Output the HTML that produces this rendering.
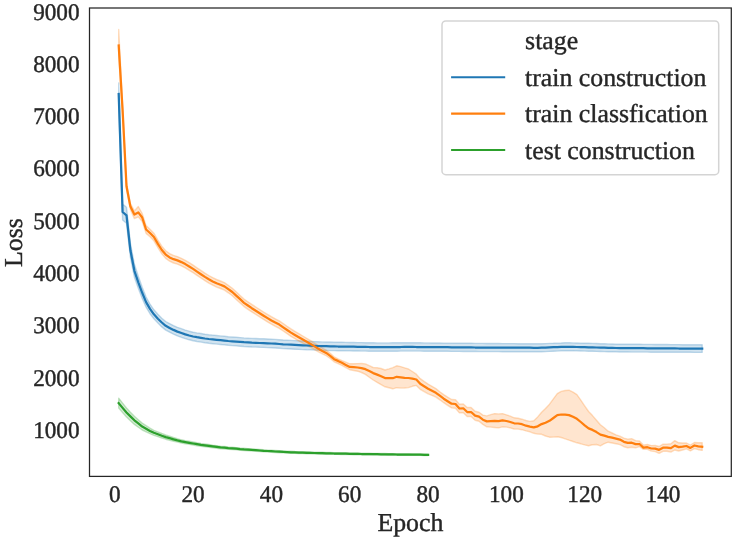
<!DOCTYPE html>
<html lang="en"><head><meta charset="utf-8"><title>Loss vs Epoch</title>
<style>html,body{margin:0;padding:0;background:#fff;}body{width:748px;height:544px;overflow:hidden;}svg{display:block;}</style>
</head><body>
<svg width="748" height="544" viewBox="0 0 748 544">
<rect width="748" height="544" fill="#fff"/>
<g fill-opacity="0.2" stroke-opacity="0.26" stroke-width="1.4" stroke-linejoin="round">
<path d="M118.7,83.0 L122.6,204.0 L126.5,207.3 L130.4,243.3 L134.4,264.3 L138.3,276.3 L142.2,287.3 L146.1,297.0 L150.0,304.1 L153.9,309.8 L157.9,314.3 L161.8,318.2 L165.7,321.5 L169.6,323.6 L173.5,325.6 L177.4,327.3 L181.4,328.7 L185.3,330.1 L189.2,331.2 L193.1,332.2 L197.0,332.9 L200.9,333.5 L204.9,334.2 L208.8,334.7 L212.7,335.1 L216.6,335.5 L220.5,335.9 L224.4,336.3 L228.3,336.7 L232.3,337.0 L236.2,337.3 L240.1,337.6 L244.0,337.9 L247.9,338.1 L251.8,338.4 L255.8,338.5 L259.7,338.7 L263.6,338.8 L267.5,339.0 L271.4,339.2 L275.3,339.4 L279.3,339.7 L283.2,340.0 L287.1,340.2 L291.0,340.4 L294.9,340.6 L298.8,340.8 L302.8,341.0 L306.7,341.2 L310.6,341.4 L314.5,341.6 L318.4,341.7 L322.3,341.9 L326.2,342.0 L330.2,342.0 L334.1,342.1 L338.0,342.2 L341.9,342.3 L345.8,342.4 L349.7,342.5 L353.7,342.5 L357.6,342.6 L361.5,342.6 L365.4,342.7 L369.3,342.7 L373.2,342.8 L377.2,342.9 L381.1,342.9 L385.0,342.9 L388.9,342.9 L392.8,342.8 L396.7,342.8 L400.7,342.8 L404.6,342.8 L408.5,342.7 L412.4,342.8 L416.3,342.8 L420.2,342.8 L424.1,342.9 L428.1,342.9 L432.0,343.0 L435.9,343.0 L439.8,343.0 L443.7,343.1 L447.6,343.1 L451.6,343.1 L455.5,343.2 L459.4,343.2 L463.3,343.3 L467.2,343.3 L471.1,343.3 L475.1,343.4 L479.0,343.4 L482.9,343.4 L486.8,343.5 L490.7,343.5 L494.6,343.5 L498.6,343.5 L502.5,343.6 L506.4,343.6 L510.3,343.6 L514.2,343.6 L518.1,343.7 L522.0,343.7 L526.0,343.7 L529.9,343.7 L533.8,343.8 L537.7,343.8 L541.6,343.7 L545.5,343.6 L549.5,343.4 L553.4,343.3 L557.3,343.1 L561.2,343.0 L565.1,342.8 L569.0,342.8 L573.0,342.9 L576.9,343.0 L580.8,343.1 L584.7,343.2 L588.6,343.3 L592.5,343.4 L596.5,343.5 L600.4,343.7 L604.3,343.8 L608.2,343.9 L612.1,344.0 L616.0,344.1 L619.9,344.2 L623.9,344.2 L627.8,344.3 L631.7,344.3 L635.6,344.3 L639.5,344.3 L643.4,344.4 L647.4,344.4 L651.3,344.4 L655.2,344.5 L659.1,344.5 L663.0,344.5 L666.9,344.5 L670.9,344.6 L674.8,344.6 L678.7,344.6 L682.6,344.7 L686.5,344.7 L690.4,344.7 L694.4,344.7 L698.3,344.8 L702.2,344.8 L702.2,352.4 L698.3,352.4 L694.4,352.4 L690.4,352.3 L686.5,352.3 L682.6,352.3 L678.7,352.3 L674.8,352.3 L670.9,352.2 L666.9,352.2 L663.0,352.2 L659.1,352.2 L655.2,352.2 L651.3,352.2 L647.4,352.1 L643.4,352.1 L639.5,352.1 L635.6,352.1 L631.7,352.1 L627.8,352.0 L623.9,352.0 L619.9,352.0 L616.0,351.9 L612.1,351.8 L608.2,351.7 L604.3,351.6 L600.4,351.5 L596.5,351.4 L592.5,351.3 L588.6,351.2 L584.7,351.1 L580.8,351.0 L576.9,350.9 L573.0,350.8 L569.0,350.7 L565.1,350.7 L561.2,350.9 L557.3,351.1 L553.4,351.2 L549.5,351.4 L545.5,351.6 L541.6,351.7 L537.7,351.8 L533.8,351.8 L529.9,351.8 L526.0,351.7 L522.0,351.7 L518.1,351.7 L514.2,351.7 L510.3,351.7 L506.4,351.7 L502.5,351.7 L498.6,351.6 L494.6,351.6 L490.7,351.6 L486.8,351.6 L482.9,351.6 L479.0,351.6 L475.1,351.5 L471.1,351.5 L467.2,351.5 L463.3,351.5 L459.4,351.4 L455.5,351.4 L451.6,351.4 L447.6,351.3 L443.7,351.3 L439.8,351.3 L435.9,351.3 L432.0,351.2 L428.1,351.2 L424.1,351.2 L420.2,351.1 L416.3,351.1 L412.4,351.1 L408.5,351.1 L404.6,351.1 L400.7,351.1 L396.7,351.2 L392.8,351.2 L388.9,351.2 L385.0,351.3 L381.1,351.3 L377.2,351.3 L373.2,351.2 L369.3,351.2 L365.4,351.1 L361.5,351.1 L357.6,351.0 L353.7,351.0 L349.7,350.9 L345.8,350.9 L341.9,350.8 L338.0,350.7 L334.1,350.6 L330.2,350.6 L326.2,350.5 L322.3,350.4 L318.4,350.3 L314.5,350.1 L310.6,349.9 L306.7,349.8 L302.8,349.6 L298.8,349.4 L294.9,349.2 L291.0,349.0 L287.1,348.8 L283.2,348.6 L279.3,348.3 L275.3,348.0 L271.4,347.8 L267.5,347.6 L263.6,347.4 L259.7,347.3 L255.8,347.1 L251.8,347.0 L247.9,346.7 L244.0,346.5 L240.1,346.2 L236.2,345.9 L232.3,345.6 L228.3,345.3 L224.4,344.9 L220.5,344.5 L216.6,344.1 L212.7,343.7 L208.8,343.3 L204.9,342.8 L200.9,342.1 L197.0,341.5 L193.1,340.8 L189.2,339.8 L185.3,338.7 L181.4,337.3 L177.4,335.9 L173.5,334.2 L169.6,332.2 L165.7,330.1 L161.8,326.9 L157.9,323.1 L153.9,318.8 L150.0,313.7 L146.1,307.2 L142.2,298.4 L138.3,288.3 L134.4,277.2 L130.4,257.3 L126.5,223.3 L122.6,220.0 L118.7,105.0Z" fill="#1f77b4" stroke="#1f77b4"/>
<path d="M118.7,29.5 L122.6,105.3 L126.5,183.2 L130.4,203.6 L134.4,210.9 L138.3,206.5 L142.2,213.5 L146.1,225.6 L150.0,229.2 L153.9,233.2 L157.9,240.1 L161.8,246.2 L165.7,250.8 L169.6,253.6 L173.5,255.4 L177.4,256.6 L181.4,258.3 L185.3,260.3 L189.2,262.7 L193.1,265.1 L197.0,267.8 L200.9,270.4 L204.9,273.1 L208.8,275.5 L212.7,277.6 L216.6,279.5 L220.5,281.0 L224.4,282.6 L228.3,285.3 L232.3,288.2 L236.2,291.8 L240.1,295.5 L244.0,299.1 L247.9,301.8 L251.8,304.4 L255.8,307.0 L259.7,309.5 L263.6,312.0 L267.5,314.4 L271.4,316.7 L275.3,318.8 L279.3,320.9 L283.2,323.5 L287.1,326.3 L291.0,328.9 L294.9,331.3 L298.8,333.6 L302.8,336.0 L306.7,338.3 L310.6,340.7 L314.5,343.2 L318.4,345.7 L322.3,348.0 L326.2,350.2 L330.2,353.3 L334.1,356.8 L338.0,358.8 L341.9,360.6 L345.8,362.2 L349.7,363.8 L353.7,363.7 L357.6,363.6 L361.5,363.5 L365.4,363.9 L369.3,365.7 L373.2,367.5 L377.2,367.7 L381.1,368.5 L385.0,370.0 L388.9,368.9 L392.8,367.7 L396.7,365.8 L400.7,366.6 L404.6,367.8 L408.5,369.0 L412.4,371.5 L416.3,374.2 L420.2,378.6 L424.1,381.4 L428.1,384.1 L432.0,386.3 L435.9,388.6 L439.8,391.7 L443.7,394.6 L447.6,397.1 L451.6,399.5 L455.5,399.7 L459.4,404.2 L463.3,403.9 L467.2,407.5 L471.1,407.5 L475.1,411.2 L479.0,412.2 L482.9,415.1 L486.8,415.9 L490.7,414.7 L494.6,413.6 L498.6,413.9 L502.5,413.6 L506.4,414.8 L510.3,416.2 L514.2,417.8 L518.1,418.3 L522.0,419.2 L526.0,420.5 L529.9,421.4 L533.8,420.8 L537.7,416.9 L541.6,412.2 L545.5,408.5 L549.5,404.2 L553.4,398.8 L557.3,393.6 L561.2,391.4 L565.1,390.5 L569.0,390.2 L573.0,392.1 L576.9,394.6 L580.8,400.1 L584.7,405.9 L588.6,411.5 L592.5,415.6 L596.5,420.2 L600.4,424.7 L604.3,427.7 L608.2,431.2 L612.1,433.0 L616.0,434.8 L619.9,436.2 L623.9,438.2 L627.8,439.1 L631.7,438.7 L635.6,440.6 L639.5,441.0 L643.4,445.1 L647.4,444.5 L651.3,445.6 L655.2,445.5 L659.1,446.5 L663.0,444.2 L666.9,444.1 L670.9,443.8 L674.8,440.6 L678.7,442.8 L682.6,443.0 L686.5,443.0 L690.4,445.0 L694.4,442.5 L698.3,442.8 L702.2,442.7 L702.2,450.4 L698.3,449.7 L694.4,448.6 L690.4,450.9 L686.5,448.8 L682.6,450.0 L678.7,451.0 L674.8,450.0 L670.9,452.1 L666.9,451.3 L663.0,451.3 L659.1,453.3 L655.2,451.6 L651.3,451.1 L647.4,449.3 L643.4,449.3 L639.5,446.7 L635.6,447.8 L631.7,447.3 L627.8,447.7 L623.9,446.7 L619.9,444.6 L616.0,443.8 L612.1,443.0 L608.2,442.2 L604.3,443.7 L600.4,445.8 L596.5,444.5 L592.5,444.8 L588.6,445.7 L584.7,444.9 L580.8,443.8 L576.9,442.8 L573.0,441.5 L569.0,440.2 L565.1,438.8 L561.2,437.5 L557.3,436.7 L553.4,437.1 L549.5,437.2 L545.5,436.0 L541.6,434.3 L537.7,434.1 L533.8,433.3 L529.9,431.8 L526.0,430.9 L522.0,429.7 L518.1,429.1 L514.2,429.0 L510.3,427.9 L506.4,427.1 L502.5,426.8 L498.6,427.9 L494.6,427.5 L490.7,427.1 L486.8,426.8 L482.9,424.4 L479.0,421.2 L475.1,420.2 L471.1,416.5 L467.2,416.5 L463.3,412.7 L459.4,412.9 L455.5,408.2 L451.6,407.9 L447.6,405.3 L443.7,402.7 L439.8,399.8 L435.9,397.1 L432.0,395.4 L428.1,393.8 L424.1,391.6 L420.2,389.3 L416.3,385.4 L412.4,386.3 L408.5,387.6 L404.6,388.0 L400.7,388.1 L396.7,387.7 L392.8,388.8 L388.9,387.8 L385.0,386.8 L381.1,384.7 L377.2,382.4 L373.2,380.0 L369.3,377.2 L365.4,374.4 L361.5,372.5 L357.6,371.2 L353.7,370.5 L349.7,369.7 L345.8,367.6 L341.9,365.4 L338.0,363.5 L334.1,361.8 L330.2,358.5 L326.2,355.7 L322.3,353.8 L318.4,351.8 L314.5,349.6 L310.6,347.3 L306.7,345.3 L302.8,343.2 L298.8,341.0 L294.9,338.7 L291.0,336.4 L287.1,333.7 L283.2,331.0 L279.3,328.4 L275.3,326.3 L271.4,324.2 L267.5,321.9 L263.6,319.4 L259.7,317.0 L255.8,314.5 L251.8,311.9 L247.9,309.3 L244.0,306.6 L240.1,303.0 L236.2,299.4 L232.3,295.8 L228.3,292.8 L224.4,290.1 L220.5,288.5 L216.6,287.1 L212.7,285.2 L208.8,283.1 L204.9,280.7 L200.9,278.0 L197.0,275.4 L193.1,272.7 L189.2,270.3 L185.3,267.9 L181.4,265.9 L177.4,264.2 L173.5,263.0 L169.6,261.2 L165.7,258.4 L161.8,253.8 L157.9,247.7 L153.9,240.8 L150.0,236.8 L146.1,233.4 L142.2,221.5 L138.3,216.9 L134.4,218.6 L130.4,209.6 L126.5,189.2 L122.6,115.3 L118.7,55.5Z" fill="#ff7f0e" stroke="#ff7f0e"/>
<path d="M118.7,398.1 L122.6,403.1 L126.5,408.0 L130.4,412.2 L134.4,416.3 L138.3,419.7 L142.2,423.1 L146.1,425.7 L150.0,428.2 L153.9,430.3 L157.9,431.9 L161.8,433.5 L165.7,435.0 L169.6,436.2 L173.5,437.5 L177.4,438.7 L181.4,439.8 L185.3,440.6 L189.2,441.3 L193.1,442.0 L197.0,442.8 L200.9,443.5 L204.9,444.0 L208.8,444.5 L212.7,445.1 L216.6,445.6 L220.5,446.2 L224.4,446.5 L228.3,446.9 L232.3,447.2 L236.2,447.6 L240.1,448.0 L244.0,448.3 L247.9,448.6 L251.8,448.9 L255.8,449.1 L259.7,449.4 L263.6,449.7 L267.5,450.0 L271.4,450.2 L275.3,450.4 L279.3,450.6 L283.2,450.9 L287.1,451.1 L291.0,451.3 L294.9,451.5 L298.8,451.6 L302.8,451.7 L306.7,451.8 L310.6,452.0 L314.5,452.1 L318.4,452.2 L322.3,452.3 L326.2,452.4 L330.2,452.5 L334.1,452.6 L338.0,452.6 L341.9,452.7 L345.8,452.8 L349.7,452.9 L353.7,453.0 L357.6,453.0 L361.5,453.1 L365.4,453.2 L369.3,453.3 L373.2,453.4 L377.2,453.4 L381.1,453.5 L385.0,453.5 L388.9,453.6 L392.8,453.6 L396.7,453.7 L400.7,453.7 L404.6,453.8 L408.5,453.8 L412.4,453.9 L416.3,453.9 L420.2,454.0 L424.1,454.0 L428.1,454.1 L428.1,455.5 L424.1,455.5 L420.2,455.4 L416.3,455.4 L412.4,455.4 L408.5,455.3 L404.6,455.3 L400.7,455.3 L396.7,455.2 L392.8,455.2 L388.9,455.2 L385.0,455.1 L381.1,455.1 L377.2,455.0 L373.2,455.0 L369.3,454.9 L365.4,454.9 L361.5,454.8 L357.6,454.7 L353.7,454.7 L349.7,454.6 L345.8,454.6 L341.9,454.5 L338.0,454.4 L334.1,454.4 L330.2,454.3 L326.2,454.2 L322.3,454.2 L318.4,454.1 L314.5,454.0 L310.6,453.9 L306.7,453.8 L302.8,453.6 L298.8,453.5 L294.9,453.4 L291.0,453.3 L287.1,453.1 L283.2,452.9 L279.3,452.7 L275.3,452.5 L271.4,452.3 L267.5,452.1 L263.6,451.8 L259.7,451.6 L255.8,451.3 L251.8,451.0 L247.9,450.7 L244.0,450.5 L240.1,450.2 L236.2,449.9 L232.3,449.6 L228.3,449.3 L224.4,449.0 L220.5,448.7 L216.6,448.2 L212.7,447.7 L208.8,447.3 L204.9,446.8 L200.9,446.3 L197.0,445.7 L193.1,445.0 L189.2,444.3 L185.3,443.7 L181.4,443.0 L177.4,442.1 L173.5,441.2 L169.6,440.2 L165.7,439.2 L161.8,438.0 L157.9,436.7 L153.9,435.3 L150.0,433.7 L146.1,431.8 L142.2,430.0 L138.3,427.2 L134.4,424.4 L130.4,420.7 L126.5,417.1 L122.6,412.6 L118.7,408.1Z" fill="#2ca02c" stroke="#2ca02c"/>
</g>
<g fill="none" stroke-width="2.25" stroke-linejoin="round" stroke-linecap="square">
<path d="M118.7,94.0 L122.6,212.0 L126.5,215.3 L130.4,250.3 L134.4,270.8 L138.3,282.3 L142.2,292.8 L146.1,302.1 L150.0,308.9 L153.9,314.3 L157.9,318.7 L161.8,322.5 L165.7,325.8 L169.6,327.9 L173.5,329.9 L177.4,331.6 L181.4,333.0 L185.3,334.4 L189.2,335.5 L193.1,336.5 L197.0,337.2 L200.9,337.8 L204.9,338.5 L208.8,339.0 L212.7,339.4 L216.6,339.8 L220.5,340.2 L224.4,340.6 L228.3,341.0 L232.3,341.3 L236.2,341.6 L240.1,341.9 L244.0,342.2 L247.9,342.4 L251.8,342.7 L255.8,342.8 L259.7,343.0 L263.6,343.1 L267.5,343.3 L271.4,343.5 L275.3,343.7 L279.3,344.0 L283.2,344.3 L287.1,344.5 L291.0,344.7 L294.9,344.9 L298.8,345.1 L302.8,345.3 L306.7,345.5 L310.6,345.7 L314.5,345.8 L318.4,346.0 L322.3,346.1 L326.2,346.2 L330.2,346.3 L334.1,346.4 L338.0,346.5 L341.9,346.5 L345.8,346.6 L349.7,346.7 L353.7,346.7 L357.6,346.8 L361.5,346.9 L365.4,346.9 L369.3,347.0 L373.2,347.0 L377.2,347.1 L381.1,347.1 L385.0,347.1 L388.9,347.0 L392.8,347.0 L396.7,347.0 L400.7,347.0 L404.6,346.9 L408.5,346.9 L412.4,346.9 L416.3,347.0 L420.2,347.0 L424.1,347.0 L428.1,347.1 L432.0,347.1 L435.9,347.1 L439.8,347.2 L443.7,347.2 L447.6,347.2 L451.6,347.3 L455.5,347.3 L459.4,347.3 L463.3,347.4 L467.2,347.4 L471.1,347.4 L475.1,347.5 L479.0,347.5 L482.9,347.5 L486.8,347.5 L490.7,347.6 L494.6,347.6 L498.6,347.6 L502.5,347.6 L506.4,347.6 L510.3,347.7 L514.2,347.7 L518.1,347.7 L522.0,347.7 L526.0,347.7 L529.9,347.7 L533.8,347.8 L537.7,347.8 L541.6,347.7 L545.5,347.6 L549.5,347.4 L553.4,347.2 L557.3,347.1 L561.2,346.9 L565.1,346.8 L569.0,346.8 L573.0,346.9 L576.9,347.0 L580.8,347.1 L584.7,347.2 L588.6,347.3 L592.5,347.4 L596.5,347.5 L600.4,347.6 L604.3,347.7 L608.2,347.8 L612.1,347.9 L616.0,348.0 L619.9,348.1 L623.9,348.1 L627.8,348.1 L631.7,348.2 L635.6,348.2 L639.5,348.2 L643.4,348.2 L647.4,348.3 L651.3,348.3 L655.2,348.3 L659.1,348.3 L663.0,348.4 L666.9,348.4 L670.9,348.4 L674.8,348.4 L678.7,348.5 L682.6,348.5 L686.5,348.5 L690.4,348.5 L694.4,348.6 L698.3,348.6 L702.2,348.6" stroke="#1f77b4"/>
<path d="M118.7,45.5 L122.6,110.3 L126.5,186.2 L130.4,206.6 L134.4,214.5 L138.3,212.4 L142.2,217.5 L146.1,229.5 L150.0,233.0 L153.9,237.0 L157.9,243.9 L161.8,250.0 L165.7,254.6 L169.6,257.4 L173.5,259.2 L177.4,260.4 L181.4,262.1 L185.3,264.1 L189.2,266.5 L193.1,268.9 L197.0,271.6 L200.9,274.2 L204.9,276.9 L208.8,279.3 L212.7,281.4 L216.6,283.3 L220.5,284.8 L224.4,286.4 L228.3,289.1 L232.3,292.0 L236.2,295.6 L240.1,299.2 L244.0,302.8 L247.9,305.5 L251.8,308.2 L255.8,310.8 L259.7,313.2 L263.6,315.7 L267.5,318.1 L271.4,320.5 L275.3,322.6 L279.3,324.6 L283.2,327.3 L287.1,330.0 L291.0,332.6 L294.9,335.0 L298.8,337.3 L302.8,339.6 L306.7,341.8 L310.6,344.0 L314.5,346.4 L318.4,348.7 L322.3,350.9 L326.2,352.9 L330.2,355.8 L334.1,359.2 L338.0,360.9 L341.9,362.8 L345.8,364.9 L349.7,366.9 L353.7,367.2 L357.6,367.5 L361.5,368.1 L365.4,369.2 L369.3,371.1 L373.2,373.1 L377.2,374.6 L381.1,376.3 L385.0,378.1 L388.9,378.2 L392.8,378.2 L396.7,376.8 L400.7,377.3 L404.6,377.8 L408.5,378.0 L412.4,378.6 L416.3,379.5 L420.2,383.8 L424.1,386.3 L428.1,388.8 L432.0,390.8 L435.9,392.8 L439.8,395.7 L443.7,398.7 L447.6,401.2 L451.6,403.7 L455.5,404.0 L459.4,408.5 L463.3,408.3 L467.2,412.0 L471.1,412.0 L475.1,415.7 L479.0,416.7 L482.9,419.7 L486.8,421.4 L490.7,421.1 L494.6,420.8 L498.6,421.1 L502.5,420.3 L506.4,421.0 L510.3,422.0 L514.2,423.3 L518.1,423.5 L522.0,424.2 L526.0,425.7 L529.9,426.7 L533.8,427.4 L537.7,426.3 L541.6,424.1 L545.5,422.7 L549.5,420.8 L553.4,418.0 L557.3,415.2 L561.2,414.5 L565.1,414.6 L569.0,415.1 L573.0,416.8 L576.9,418.8 L580.8,422.0 L584.7,425.3 L588.6,428.4 L592.5,429.9 L596.5,432.1 L600.4,434.6 L604.3,435.7 L608.2,436.8 L612.1,437.7 L616.0,438.6 L619.9,439.6 L623.9,441.8 L627.8,442.9 L631.7,442.7 L635.6,444.1 L639.5,444.0 L643.4,447.6 L647.4,447.2 L651.3,448.5 L655.2,448.6 L659.1,449.8 L663.0,447.7 L666.9,447.7 L670.9,448.1 L674.8,445.6 L678.7,447.1 L682.6,446.7 L686.5,446.0 L690.4,447.9 L694.4,445.5 L698.3,446.3 L702.2,446.7" stroke="#ff7f0e"/>
<path d="M118.7,403.1 L122.6,407.9 L126.5,412.5 L130.4,416.4 L134.4,420.3 L138.3,423.4 L142.2,426.6 L146.1,428.7 L150.0,430.9 L153.9,432.8 L157.9,434.3 L161.8,435.8 L165.7,437.1 L169.6,438.2 L173.5,439.3 L177.4,440.4 L181.4,441.4 L185.3,442.1 L189.2,442.8 L193.1,443.5 L197.0,444.2 L200.9,444.9 L204.9,445.4 L208.8,445.9 L212.7,446.4 L216.6,446.9 L220.5,447.4 L224.4,447.7 L228.3,448.1 L232.3,448.4 L236.2,448.7 L240.1,449.1 L244.0,449.4 L247.9,449.6 L251.8,449.9 L255.8,450.2 L259.7,450.5 L263.6,450.8 L267.5,451.0 L271.4,451.2 L275.3,451.5 L279.3,451.7 L283.2,451.9 L287.1,452.1 L291.0,452.3 L294.9,452.4 L298.8,452.6 L302.8,452.7 L306.7,452.8 L310.6,452.9 L314.5,453.0 L318.4,453.1 L322.3,453.2 L326.2,453.3 L330.2,453.4 L334.1,453.5 L338.0,453.5 L341.9,453.6 L345.8,453.7 L349.7,453.8 L353.7,453.8 L357.6,453.9 L361.5,454.0 L365.4,454.0 L369.3,454.1 L373.2,454.2 L377.2,454.2 L381.1,454.3 L385.0,454.3 L388.9,454.4 L392.8,454.4 L396.7,454.5 L400.7,454.5 L404.6,454.5 L408.5,454.6 L412.4,454.6 L416.3,454.7 L420.2,454.7 L424.1,454.8 L428.1,454.8" stroke="#2ca02c"/>
</g>
<rect x="89.5" y="8.0" width="641.8" height="468.4" fill="none" stroke="#262626" stroke-width="1.25"/>
<g font-family="'Liberation Serif', serif" text-rendering="geometricPrecision" font-size="23.2" fill="#262626" stroke="#262626" stroke-width="0.4">
<text transform="translate(79.5,438.4) scale(1,1.03)" text-anchor="end">1000</text>
<text transform="translate(79.5,385.9) scale(1,1.03)" text-anchor="end">2000</text>
<text transform="translate(79.5,333.4) scale(1,1.03)" text-anchor="end">3000</text>
<text transform="translate(79.5,280.9) scale(1,1.03)" text-anchor="end">4000</text>
<text transform="translate(79.5,228.6) scale(1,1.03)" text-anchor="end">5000</text>
<text transform="translate(79.5,176.4) scale(1,1.03)" text-anchor="end">6000</text>
<text transform="translate(79.5,124.2) scale(1,1.03)" text-anchor="end">7000</text>
<text transform="translate(79.5,72.0) scale(1,1.03)" text-anchor="end">8000</text>
<text transform="translate(79.5,19.8) scale(1,1.03)" text-anchor="end">9000</text>
<text transform="translate(114.8,502.3) scale(1,1.03)" text-anchor="middle">0</text>
<text transform="translate(193.1,502.3) scale(1,1.03)" text-anchor="middle">20</text>
<text transform="translate(271.4,502.3) scale(1,1.03)" text-anchor="middle">40</text>
<text transform="translate(349.7,502.3) scale(1,1.03)" text-anchor="middle">60</text>
<text transform="translate(428.0,502.3) scale(1,1.03)" text-anchor="middle">80</text>
<text transform="translate(506.4,502.3) scale(1,1.03)" text-anchor="middle">100</text>
<text transform="translate(584.7,502.3) scale(1,1.03)" text-anchor="middle">120</text>
<text transform="translate(663.0,502.3) scale(1,1.03)" text-anchor="middle">140</text>
</g>
<g font-family="'Liberation Serif', serif" text-rendering="geometricPrecision" font-size="25.8" fill="#262626" stroke="#262626" stroke-width="0.4">
<text x="410.4" y="531.2" text-anchor="middle">Epoch</text>
<text transform="translate(22.2,242.6) rotate(-90)" text-anchor="middle">Loss</text>
</g>
<rect x="442.0" y="21" width="276.7" height="153.7" rx="3.8" ry="3.8" fill="#fff" fill-opacity="0.8" stroke="#cccccc" stroke-opacity="0.85" stroke-width="1.5"/>
<g font-family="'Liberation Serif', serif" text-rendering="geometricPrecision" font-size="25.8" fill="#262626" stroke="#262626" stroke-width="0.4">
<text x="525.1" y="49.1">stage</text>
<text x="525.1" y="85.5">train construction</text>
<text x="525.1" y="122.3">train classfication</text>
<text x="525.1" y="158.6">test construction</text>
</g>
<line x1="451.1" x2="505.2" y1="77.2" y2="77.2" stroke="#1f77b4" stroke-width="2.1"/>
<line x1="451.1" x2="505.2" y1="113.6" y2="113.6" stroke="#ff7f0e" stroke-width="2.1"/>
<line x1="451.1" x2="505.2" y1="150.0" y2="150.0" stroke="#2ca02c" stroke-width="2.1"/>
</svg>
</body></html>
